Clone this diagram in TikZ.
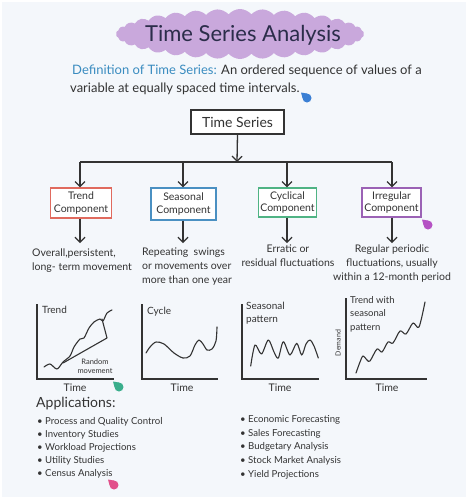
\documentclass[tikz,border=0pt]{standalone}
\usepackage{fontspec}
\setmainfont{Lato}
\usetikzlibrary{arrows.meta,shapes.symbols}
\definecolor{bg}{HTML}{F4F7FB}
\definecolor{blob}{HTML}{C9A8DC}
\definecolor{titlecol}{HTML}{2B2D4A}
\definecolor{defblue}{HTML}{3A8CC0}
\definecolor{ink}{HTML}{333333}
\definecolor{cred}{HTML}{E06A5E}
\definecolor{cblue}{HTML}{4A90C2}
\definecolor{cgreen}{HTML}{4FB384}
\definecolor{cpurple}{HTML}{9B62B5}
\definecolor{bdgblue}{HTML}{3B7FD4}
\definecolor{bdgpurple}{HTML}{B552C4}
\definecolor{bdggreen}{HTML}{3AAE8C}
\definecolor{bdgpink}{HTML}{E2508A}
\begin{document}
\begin{tikzpicture}[x=1pt,y=-1pt,
  txt/.style={text=ink, inner sep=0pt},
  conn/.style={draw=ink, line width=1.3pt},
  arr/.style={conn, -{Straight Barb[length=5pt,width=10pt,line width=1.2pt]}},
  compbox/.style={draw, line width=1.3pt, fill=white, align=center, text=ink,
     font=\fontsize{10.5}{12.5}\selectfont, inner sep=2pt},
  desc/.style={txt, font=\fontsize{10.5}{14}\selectfont},
  axis/.style={draw=ink, line width=1.1pt},
  curve/.style={draw=ink, line width=1.1pt, line join=round, line cap=round},
  clab/.style={txt, font=\fontsize{10}{13}\selectfont, align=left},
  tlab/.style={txt, font=\fontsize{10.5}{12}\selectfont},
  item/.style={txt, anchor=west, font=\fontsize{9.6}{12}\selectfont},
  badge/.style={fill=#1}
]
\useasboundingbox (0,0) rectangle (474,504);
\fill[white] (0,0) rectangle (474,504);
\fill[bg] (2,2) rectangle (466,497);

% title
\node[cloud, cloud puffs=34, cloud puff arc=100, aspect=5.0, fill=blob, draw=none,
      minimum width=248pt, minimum height=50pt, inner sep=0pt] (blob) at (240,34) {};
\node[text=titlecol, inner sep=0pt, font=\fontsize{22}{24}\selectfont] (title) at (243,35) {Time Series Analysis};

% definition
\node[txt, anchor=west, font=\fontsize{13}{15}\selectfont] (def1) at (72,71)
  {\textcolor{defblue}{Definition of Time Series:} An ordered sequence of values of a};
\node[txt, anchor=west, font=\fontsize{13}{15}\selectfont] (def2) at (70,89)
  {variable at equally spaced time intervals.};
\fill[bdgblue] (307,98) circle (4.5);
\fill[bdgblue] (302.5,98) -- (301,92.5) -- (307,93.5) -- cycle;

% tree
\node[draw=ink, line width=1.3pt, fill=white, text=ink, minimum width=93pt, minimum height=24pt,
      inner sep=0pt, font=\fontsize{14}{16}\selectfont] (ts) at (237.5,122) {Time Series};
\coordinate (j) at (237,162);
\coordinate (hl) at (80,162);
\coordinate (hr) at (392,162);
\draw[arr] (ts.south) -- (j);
\draw[conn] (hl) -- (hr);

\node[compbox, draw=cred, minimum width=61pt, minimum height=30pt] (trend) at (81,203) {Trend\\Component};
\node[compbox, draw=cblue, minimum width=65pt, minimum height=32pt] (seas) at (183.5,204) {Seasonal\\Component};
\node[compbox, draw=cgreen, minimum width=57pt, minimum height=29pt] (cyc) at (287.5,202.5) {Cyclical\\Component};
\node[compbox, draw=cpurple, minimum width=59pt, minimum height=29pt] (irr) at (391.5,202.5) {Irregular\\Component};
\fill[bdgpurple] (428,225) circle (4.5);
\fill[bdgpurple] (423.5,225) -- (422,219.5) -- (428,220.5) -- cycle;

\coordinate (h2) at (183,162);
\coordinate (h3) at (287,162);
\draw[arr] (hl) -- (hl |- trend.north);
\draw[arr] (h2) -- (h2 |- seas.north);
\draw[arr] (h3) -- (h3 |- cyc.north);
\draw[arr] (hr) -- (hr |- irr.north);

% descriptions
\node[desc, anchor=north west, align=left] (d1) at (32,249) {Overall,persistent,\\long- term movement};
\node[desc, anchor=north west, align=left] (d2) at (142,248) {Repeating\ \ swings\\or movements over\\more than one year};
\node[desc, anchor=north, align=center] (d3) at (288,245) {Erratic or\\residual fluctuations};
\node[desc, anchor=north, align=center] (d4) at (392,245) {Regular periodic\\fluctuations, usually\\within a 12-month period};
\draw[arr] (trend.south -| hl) -- (hl |- 0,243);
\draw[arr] (seas.south -| h2) -- (h2 |- 0,243);
\draw[arr] (cyc.south -| h3) -- (h3 |- 0,243);
\draw[arr] (irr.south -| hr) -- (hr |- 0,243);

% chart 1: trend
\draw[axis] (37,304) -- (37,379) -- (114,379);
\node[clab, anchor=west] (c1t) at (42,310) {Trend};
\draw[curve] plot[smooth] coordinates {(44,367) (50,364) (57,369) (63,362) (70,356) (74,347) (80,339) (84,338) (89,328) (94,322) (100,319) (103,321) (107,313) (112,310)};
\draw[curve] (63,363) -- (107,338) -- (102,319);
\node[txt, font=\fontsize{7.5}{9}\selectfont, align=center] (rm) at (95,366) {Random\\movement};
\node[tlab] (t1) at (75,388) {Time};
\fill[bdggreen] (119,387) circle (4.5);
\fill[bdggreen] (114.5,387) -- (113,381.5) -- (119,382.5) -- cycle;

% chart 2: cycle
\draw[axis] (142,304) -- (142,379) -- (218,379);
\node[clab, anchor=west] (c2t) at (147,312) {Cycle};
\draw[curve] plot[smooth] coordinates {(146,353) (150,347) (156,342) (164,344) (174,353) (183,358) (190,356) (195,345) (199,340) (203,344) (207,350) (212,349) (216,341) (217,327)};
\node[tlab] (t2) at (182,388) {Time};

% chart 3: seasonal
\draw[axis] (242,304) -- (242,379) -- (319,379);
\node[clab, anchor=north west] (c3t) at (246,302) {Seasonal\\pattern};
\draw[curve] plot[smooth] coordinates {(250.7,366) (255,345) (261.5,354) (268.3,340) (274,352) (278.3,358) (283.3,341.7) (290,355) (296.7,343.3) (301.7,355) (306,344) (310,340) (314,346) (318.3,358)};
\node[tlab] (t3) at (280,388) {Time};

% chart 4: trend with seasonal
\draw[axis] (346,298) -- (346,379) -- (427,379);
\node[clab, anchor=north west, font=\fontsize{9.5}{13.5}\selectfont] (c4t) at (350,296) {Trend with\\seasonal\\pattern};
\node[txt, rotate=90, font=\fontsize{7}{8}\selectfont] (dem) at (338,343) {Demand};
\draw[curve] plot[smooth] coordinates {(356,373) (360,362) (363,356) (367,360) (370,361) (377,349) (382,352) (388,342) (393,343) (400,331) (406,334) (413,323) (419,327) (425,302)};
\node[tlab] (t4) at (387,388) {Time};

% applications
\node[txt, anchor=west, font=\fontsize{14}{16}\selectfont] (app) at (36,404) {Applications:};
\node[item] (a1) at (37,422) {• Process and Quality Control};
\node[item] (a2) at (37,435) {• Inventory Studies};
\node[item] (a3) at (37,448) {• Workload Projections};
\node[item] (a4) at (37,461) {• Utility Studies};
\node[item] (a5) at (37,474) {• Census Analysis};
\fill[bdgpink] (114,485) circle (4.5);
\fill[bdgpink] (109.5,485) -- (108,479.5) -- (114,480.5) -- cycle;

\node[item] (b1) at (240,420) {• Economic Forecasting};
\node[item] (b2) at (240,433.5) {• Sales Forecasting};
\node[item] (b3) at (240,447) {• Budgetary Analysis};
\node[item] (b4) at (240,461) {• Stock Market Analysis};
\node[item] (b5) at (240,475) {• Yield Projections};
\end{tikzpicture}
\end{document}
